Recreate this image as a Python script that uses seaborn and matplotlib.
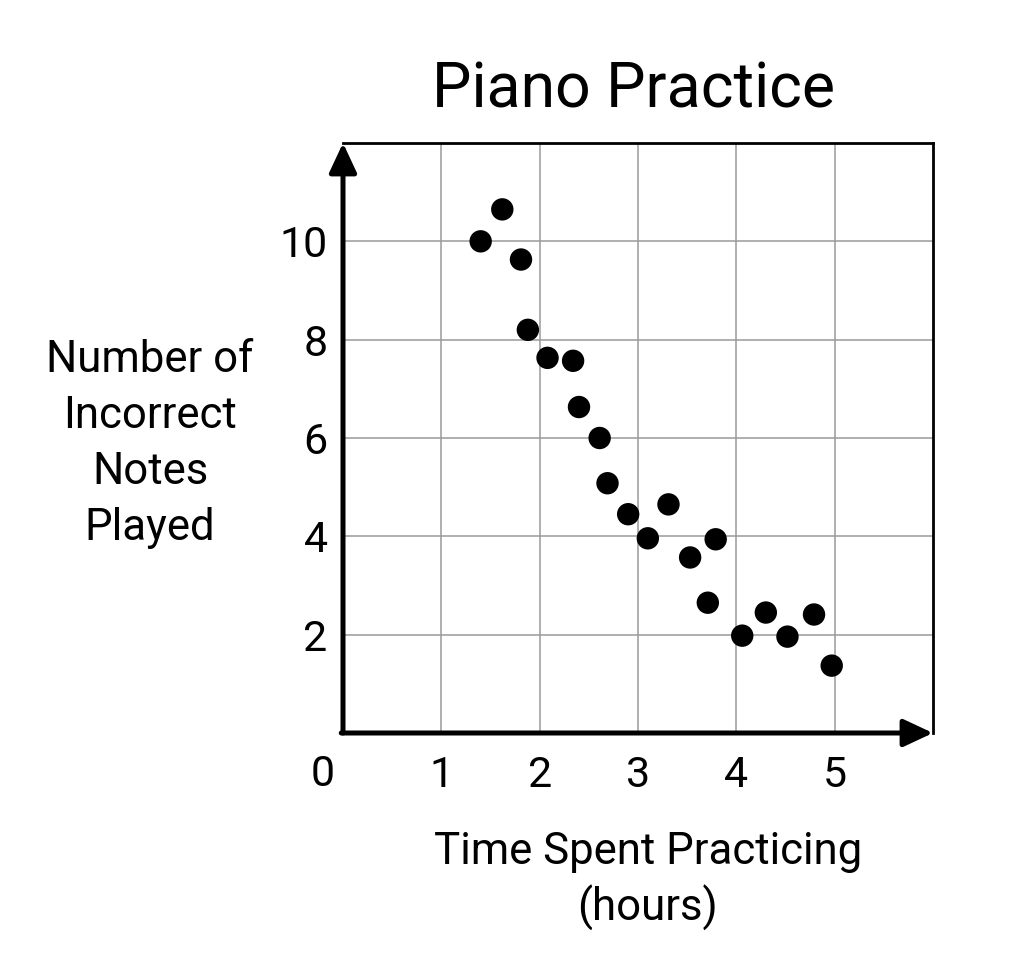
import matplotlib

matplotlib.use("Agg")
import matplotlib.pyplot as plt
import pandas as pd
import seaborn as sns

# values
hours = [1.40, 1.62, 1.81, 1.88, 2.08, 2.34, 2.40, 2.61, 2.69, 2.90,
         3.10, 3.31, 3.53, 3.71, 3.79, 4.06, 4.30, 4.52, 4.79, 4.97]
incorrect = [10.0, 10.65, 9.63, 8.2, 7.63, 7.57, 6.63, 6.0, 5.08, 4.45,
             3.96, 4.65, 3.57, 2.65, 3.94, 1.98, 2.45, 1.96, 2.41, 1.37]
x_ticks = [1, 2, 3, 4, 5]
y_ticks = [2, 4, 6, 8, 10]

df = pd.DataFrame({"hours": hours, "incorrect": incorrect})

sns.set_theme(style="whitegrid")
plt.rcParams["font.family"] = ["Roboto", "DejaVu Sans"]
plt.rcParams["text.color"] = "black"

fig = plt.figure(figsize=(10.24, 9.68), dpi=100)
ax = fig.add_axes([343 / 1024, 1 - 733 / 968, 590 / 1024, 590 / 968])

sns.scatterplot(data=df, x="hours", y="incorrect", ax=ax, color="black",
                s=260, edgecolor="none", zorder=3, clip_on=False)

ax.set_xlim(0, 6)
ax.set_ylim(0, 12)
ax.set_xticks(x_ticks)
ax.set_yticks(y_ticks)
ax.set_xticklabels([str(t) for t in x_ticks])
ax.set_yticklabels([str(t) for t in y_ticks])
ax.tick_params(axis="both", length=0, labelsize=31, colors="black")
ax.tick_params(axis="x", pad=16)
ax.tick_params(axis="y", pad=11)
ax.grid(True, color="#9a9a9a", linewidth=1.1)
ax.set_xlabel("")
ax.set_ylabel("")

for side in ["top", "right"]:
    ax.spines[side].set_color("black")
    ax.spines[side].set_linewidth(2.0)
for side in ["left", "bottom"]:
    ax.spines[side].set_visible(False)

# thick axes with arrowheads
arrow = dict(arrowstyle="-|>,head_length=0.9,head_width=0.42", lw=3.6,
             color="black", shrinkA=0, shrinkB=0, mutation_scale=20)
ax.annotate("", xy=(0, 1), xytext=(0, 0), xycoords="axes fraction",
            textcoords="axes fraction", arrowprops=arrow, annotation_clip=False)
ax.annotate("", xy=(1, 0), xytext=(-0.003, 0), xycoords="axes fraction",
            textcoords="axes fraction", arrowprops=arrow, annotation_clip=False)

ax.text(323 / 1024, 1 - 775 / 968, "0", transform=fig.transFigure,
        ha="center", va="center", fontsize=31)

fig.text(634 / 1024, 1 - 91 / 968, "Piano Practice", ha="center", va="center",
         fontsize=45)
fig.text(150 / 1024, 1 - 444 / 968, "Number of\nIncorrect\nNotes\nPlayed",
         ha="center", va="center", fontsize=31.5, linespacing=1.42)
fig.text(648 / 1024, 1 - 881 / 968, "Time Spent Practicing\n(hours)",
         ha="center", va="center", fontsize=31.5, linespacing=1.35)

fig.savefig("out.png", dpi=100)
